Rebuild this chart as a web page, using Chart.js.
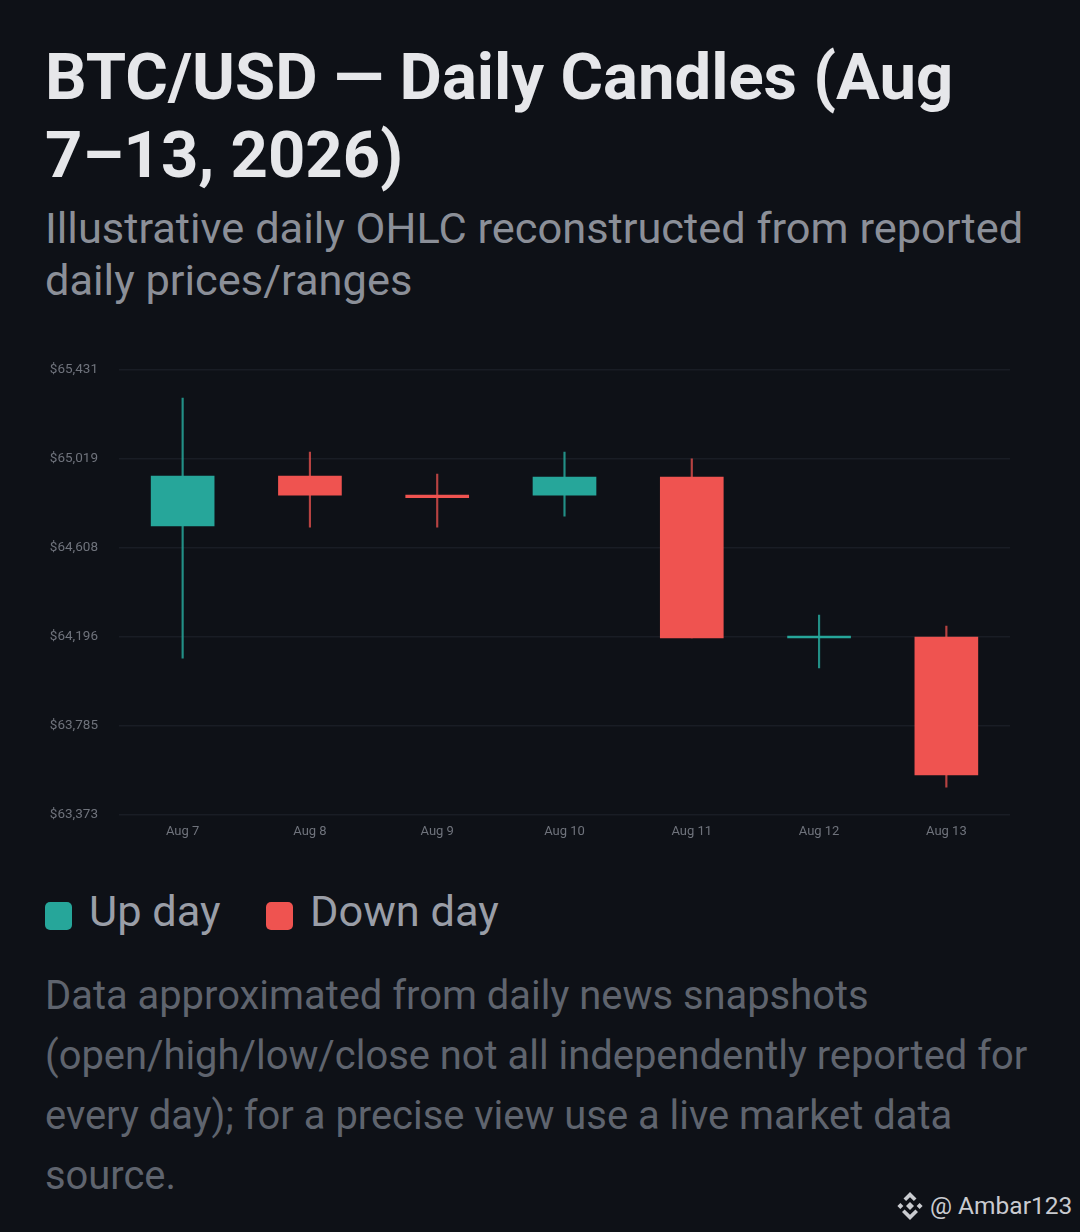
<!DOCTYPE html>
<html>
<head>
<meta charset="utf-8">
<title>BTC/USD Daily Candles</title>
<script src="https://cdn.jsdelivr.net/npm/chart.js@4"></script>
<style>
  html, body { margin: 0; padding: 0; background: #0e1117; }
  body { width: 1080px; height: 1232px; position: relative; overflow: hidden; font-family: Roboto, sans-serif; }
  .abs { position: absolute; white-space: nowrap; }
  #title { left: 45px; top: 38px; font-size: 65.2px; line-height: 78px; font-weight: 700; color: #e6e7ea; }
  #subtitle { left: 45px; top: 203px; font-size: 43.4px; line-height: 52px; color: #8b8f98; }
  #chart { position: absolute; left: 0; top: 340px; }
  .swatch { position: absolute; top: 902px; width: 27px; height: 28px; border-radius: 5px; }
  .legend { top: 886px; font-size: 43.4px; line-height: 52px; color: #9a9ea7; }
  #note { left: 45px; top: 966px; font-size: 39.9px; line-height: 60px; color: #5f646e; }
  #mark { left: 930px; top: 1190px; font-size: 24.5px; line-height: 32px; color: #c9cbd0; }
  #logo { position: absolute; left: 896px; top: 1192px; }
</style>
</head>
<body>
<div id="title" class="abs">BTC/USD — Daily Candles (Aug<br>7–13, 2026)</div>
<div id="subtitle" class="abs">Illustrative daily OHLC reconstructed from reported<br>daily prices/ranges</div>
<canvas id="chart" width="1080" height="525"></canvas>
<div class="swatch" style="left:45px;background:#26a69a"></div>
<div class="abs legend" style="left:89px">Up day</div>
<div class="swatch" style="left:266px;background:#ef5350"></div>
<div class="abs legend" style="left:310px">Down day</div>
<div id="note" class="abs">Data approximated from daily news snapshots<br>(open/high/low/close not all independently reported for<br>every day); for a precise view use a live market data<br>source.</div>
<svg id="logo" width="28" height="28" viewBox="0 0 28 28" fill="#c9cbd0">
  <path d="M14 0l6.5 6.5-2.6 2.6L14 5.2l-3.9 3.9-2.6-2.6z"/>
  <path d="M14 28l-8-8 2.6-2.6L14 22.8l5.4-5.4L22 20z"/>
  <path d="M14 10l4 4-4 4-4-4z"/>
  <path d="M4.4 11l3 3-3 3-3-3z"/>
  <path d="M23.6 11l3 3-3 3-3-3z"/>
</svg>
<div id="mark" class="abs">@ Ambar123</div>
<script>
const days = ['Aug 7', 'Aug 8', 'Aug 9', 'Aug 10', 'Aug 11', 'Aug 12', 'Aug 13'];
const opens = [64708, 64939, 64851, 64851, 64934, 64191, 64195];
const highs = [65299, 65050, 64948, 65050, 65018, 64297, 64246];
const lows = [64098, 64703, 64703, 64754, 64191, 64052, 63502];
const closes = [64939, 64851, 64839, 64934, 64191, 64200, 63558];
const priceTicks = [63373, 63785, 64196, 64608, 65019, 65431];

const upColor = '#26a69a';
const downColor = '#ef5350';
const upWick = 'rgba(38, 166, 154, 0.85)';
const downWick = 'rgba(239, 83, 80, 0.75)';
const barColors = opens.map((o, i) => (closes[i] >= o ? upColor : downColor));
const wickColors = opens.map((o, i) => (closes[i] >= o ? upWick : downWick));

new Chart(document.getElementById('chart').getContext('2d'), {
  type: 'bar',
  data: {
    labels: days,
    datasets: [
      {
        label: 'High-Low',
        data: highs.map((h, i) => [lows[i], h]),
        backgroundColor: wickColors,
        barThickness: 1.5,
        order: 2,
      },
      {
        label: 'Open-Close',
        data: opens.map((o, i) => [o, closes[i]]),
        backgroundColor: barColors,
        barThickness: 63,
        order: 1,
      },
    ],
  },
  options: {
    responsive: false,
    animation: false,
    layout: { padding: { top: 29.5, right: 70, left: 0, bottom: 0 } },
    datasets: { bar: { grouped: false } },
    plugins: {
      legend: { display: false },
      tooltip: { enabled: false },
    },
    scales: {
      x: {
        grid: { display: false },
        border: { display: false },
        ticks: { color: '#6f737c', font: { family: 'Roboto', size: 13 }, padding: 1, maxRotation: 0 },
        afterFit: scale => { scale.height = 50; },
      },
      y: {
        min: 63373,
        max: 65431,
        grid: { color: '#191d25', lineWidth: 1.5, drawTicks: false },
        border: { display: false },
        afterBuildTicks: scale => { scale.ticks = priceTicks.map(v => ({ value: v })); },
        afterFit: scale => { scale.width = 119; },
        ticks: {
          color: '#6f737c',
          font: { family: 'Roboto', size: 13.5 },
          padding: 21,
          callback: v => '$' + v.toLocaleString('en-US'),
        },
      },
    },
  },
});
</script>
</body>
</html>
